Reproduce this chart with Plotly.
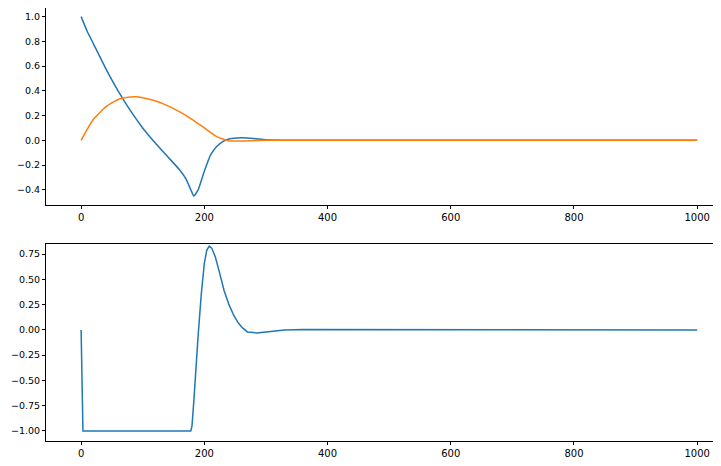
import plotly.graph_objects as go

x_blue = [0,10,20,40,60,80,100,120,140,160,170,178,183,190,200,210,220,230,240,260,280,300,340,1000]
y_blue = [1.0,0.88,0.78,0.58,0.40,0.24,0.10,-0.02,-0.13,-0.24,-0.31,-0.40,-0.45,-0.40,-0.25,-0.12,-0.05,-0.01,0.01,0.02,0.015,0.005,0.0,0.0]
x_orange = [0,10,20,40,60,80,90,100,120,140,160,180,200,220,240,260,300,1000]
y_orange = [0.0,0.09,0.17,0.27,0.33,0.35,0.352,0.345,0.32,0.28,0.23,0.17,0.10,0.03,-0.005,-0.005,0.0,0.0]
x_ctrl = [0,3,178,180,183,186,190,195,200,204,208,212,218,225,232,240,248,255,262,270,285,300,330,360,1000]
y_ctrl = [0.0,-1.0,-1.0,-0.95,-0.7,-0.4,-0.05,0.35,0.66,0.79,0.83,0.81,0.72,0.56,0.39,0.25,0.14,0.07,0.02,-0.02,-0.03,-0.02,0.0,0.004,0.0]

fig = go.Figure()
fig.add_trace(go.Scatter(x=x_blue, y=y_blue, mode="lines", line=dict(color="#1f77b4", width=1.5, shape="spline", smoothing=0.5), xaxis="x", yaxis="y"))
fig.add_trace(go.Scatter(x=x_orange, y=y_orange, mode="lines", line=dict(color="#ff7f0e", width=1.5, shape="spline", smoothing=0.5), xaxis="x", yaxis="y"))
fig.add_trace(go.Scatter(x=x_ctrl, y=y_ctrl, mode="lines", line=dict(color="#1f77b4", width=1.5), xaxis="x2", yaxis="y2"))

ax = dict(showline=True, mirror=True, linecolor="black", linewidth=1, ticks="outside",
          ticklen=3, tickcolor="black", showgrid=False, zeroline=False, automargin=False)
xa = dict(range=[-57, 1050], tickvals=[0,200,400,600,800,1000], **ax)
fig.update_layout(
    xaxis=dict(anchor="y", domain=[0, 1], **xa),
    xaxis2=dict(anchor="y2", domain=[0, 1], **xa),
    yaxis=dict(anchor="x", domain=[0.546, 1], range=[-0.52, 1.07], tickvals=[-0.4,-0.2,0,0.2,0.4,0.6,0.8,1.0],
               ticktext=["−0.4","−0.2","0.0","0.2","0.4","0.6","0.8","1.0"], tickfont=dict(size=9.5), **ax),
    yaxis2=dict(anchor="x2", domain=[0, 0.456], range=[-1.10, 0.855], tickvals=[-1,-0.75,-0.5,-0.25,0,0.25,0.5,0.75],
                ticktext=["−1.00","−0.75","−0.50","−0.25","0.00","0.25","0.50","0.75"], tickfont=dict(size=9.5), **ax),
    width=721, height=466, showlegend=False, plot_bgcolor="white", paper_bgcolor="white",
    margin=dict(l=38, r=1, t=0, b=33), font=dict(family="DejaVu Sans", size=10, color="black"))
fig.write_html("out.html")
